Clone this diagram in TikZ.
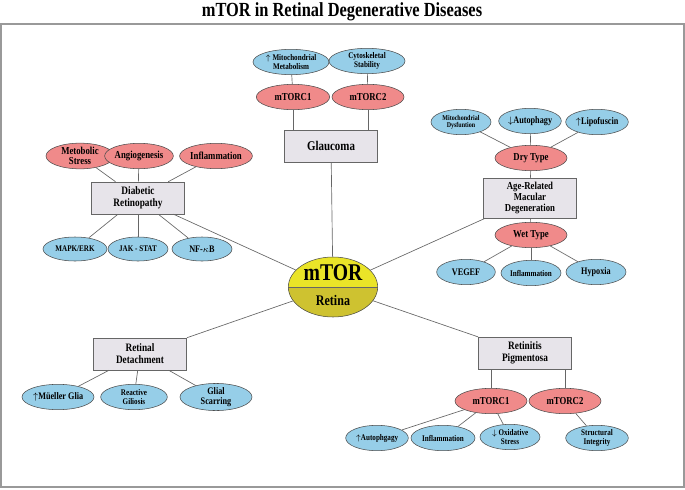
\documentclass[tikz,border=0pt]{standalone}
\usepackage{fontspec}
\setmainfont{Liberation Serif}[FakeStretch=0.82]
\usetikzlibrary{shapes.geometric,positioning}
\definecolor{skyblue}{RGB}{150,206,232}
\definecolor{salmon}{RGB}{240,138,138}
\definecolor{boxgrey}{RGB}{231,228,234}
\definecolor{lemon}{RGB}{234,228,40}
\definecolor{olivey}{RGB}{206,194,48}
\tikzset{
  blue/.style={ellipse, draw=black!70, fill=skyblue, inner sep=0pt, minimum height=19pt, align=center, font=\bfseries\fontsize{6.5}{6.5}\selectfont},
  red/.style={ellipse, draw=black!70, fill=salmon, inner sep=0pt, minimum height=19pt, align=center, font=\bfseries\fontsize{8}{8}\selectfont},
  disease/.style={rectangle, draw=black!60, fill=boxgrey, minimum width=70pt, minimum height=24pt, align=center, font=\bfseries\fontsize{8.5}{9}\selectfont},
  link/.style={draw=black!60, line width=0.5pt}
}
\begin{document}
\begin{tikzpicture}[x=0.75pt,y=0.75pt,yscale=-1,xscale=1]
    \useasboundingbox (0,0) rectangle (685,489);
    \draw [black!40, line width=1.2pt] (1,24) rectangle (684,487);
    \node (title) at (342,12) {\bfseries\fontsize{15}{15}\selectfont mTOR in Retinal Degenerative Diseases};

    % centre
    \node (mtor) [ellipse, draw=black!70, fill=lemon, minimum width=67pt, minimum height=45pt, inner sep=0pt,
      path picture={\fill[olivey] (path picture bounding box.west) rectangle (path picture bounding box.south east);
        \draw[black!60] (path picture bounding box.west) -- (path picture bounding box.east);}] at (333,287) {};
    \node (mtortxt) at (333,273) {\bfseries\fontsize{18}{18}\selectfont mTOR};
    \node (retinatxt) at (333,300) {\bfseries\fontsize{11}{11}\selectfont Retina};

    % Glaucoma
    \node (gla) [disease, font=\bfseries\fontsize{10}{10}\selectfont] at (331,146) {Glaucoma};
    \node (gc1) [red, minimum width=55pt] at (293,97) {mTORC1};
    \node (gc2) [red, minimum width=54pt] at (368,97) {mTORC2};
    \node (gmito) [blue, minimum width=57pt] at (291,62) {$\uparrow$ Mitochondrial\\Metabolism};
    \node (gcyto) [blue, minimum width=57pt] at (367,61) {Cytoskeletal\\Stability};

    % Diabetic Retinopathy
    \node (dr) [disease] at (138,198) {Diabetic\\Retinopathy};
    \node (dmet) [red, minimum width=51pt] at (80,156) {Metobolic\\Stress};
    \node (dang) [red, minimum width=51pt] at (139,156) {Angiogenesis};
    \node (dinf) [red, minimum width=54pt] at (216,156) {Inflammation};
    \node (dmapk) [blue, minimum width=48pt, minimum height=18pt] at (75,249) {MAPK/ERK};
    \node (djak) [blue, minimum width=45pt, minimum height=18pt] at (138,249) {JAK - STAT};
    \node (dnf) [blue, minimum width=45pt, minimum height=18pt, font=\bfseries\fontsize{7.5}{7.5}\selectfont] at (202,249) {NF-$\kappa$B};

    % AMD
    \node (amd) [disease, minimum height=25pt, font=\bfseries\fontsize{8}{8}\selectfont] at (530,198) {Age-Related\\Macular\\Degeneration};
    \node (dry) [red, minimum width=54pt] at (531,158) {Dry Type};
    \node (amito) [blue, minimum width=45pt, font=\bfseries\fontsize{5.5}{5.5}\selectfont] at (461,122) {Mitochondrial\\Dysfuntion};
    \node (aauto) [blue, minimum width=47pt, font=\bfseries\fontsize{7.5}{7.5}\selectfont] at (530,121) {$\downarrow$Autophagy};
    \node (alipo) [blue, minimum width=47pt, font=\bfseries\fontsize{7.5}{7.5}\selectfont] at (597,122) {$\uparrow$Lipofuscin};
    \node (wet) [red, minimum width=54pt] at (531,235) {Wet Type};
    \node (avegf) [blue, minimum width=44pt, font=\bfseries\fontsize{7.5}{7.5}\selectfont] at (466,272) {VEGEF};
    \node (ainf) [blue, minimum width=45pt] at (531,273) {Inflammation};
    \node (ahyp) [blue, minimum width=45pt, font=\bfseries\fontsize{7.5}{7.5}\selectfont] at (596,272) {Hypoxia};

    % Retinal Detachment
    \node (rd) [disease] at (140,354) {Retinal\\Detachment};
    \node (rmue) [blue, minimum width=54pt, font=\bfseries\fontsize{7.5}{7.5}\selectfont] at (58,397) {$\uparrow$Müeller Glia};
    \node (rrea) [blue, minimum width=50pt] at (134,397) {Reactive\\Giliosis};
    \node (rgli) [blue, minimum width=54pt, font=\bfseries\fontsize{7.5}{7.5}\selectfont] at (216,397) {Glial\\Scarring};

    % Retinitis Pigmentosa
    \node (rp) [disease] at (525,353) {Retinitis\\Pigmentosa};
    \node (rc1) [red, minimum width=54pt] at (491,401) {mTORC1};
    \node (rc2) [red, minimum width=54pt] at (565,401) {mTORC2};
    \node (rauto) [blue, minimum width=47pt] at (377,438) {$\uparrow$Autophgagy};
    \node (rinf) [blue, minimum width=48pt] at (443,438) {Inflammation};
    \node (roxi) [blue, minimum width=45pt] at (510,437) {$\downarrow$ Oxidative\\Stress};
    \node (rstr) [blue, minimum width=47pt] at (597,438) {Structural\\Integrity};

    % connectors
    \foreach \a/\b in {mtor/gla, mtor/dr, mtor/amd, mtor/rd, mtor/rp,
        gmito/gc1, gcyto/gc2, dmet/dr, dang/dr, dinf/dr, dr/dmapk, dr/djak, dr/dnf,
        amito/dry, aauto/dry, alipo/dry, dry/amd, amd/wet, wet/avegf, wet/ainf, wet/ahyp,
        rd/rmue, rd/rrea, rd/rgli, rc1/rauto, rc1/rinf, rc1/roxi, rc2/rstr}
      \path [link] (\a) -- (\b);
    \path [link] (gc1.south) -- (gc1.south |- gla.north);
    \path [link] (gc2.south) -- (gc2.south |- gla.north);
    \path [link] (rc1.north) -- (rc1.north |- rp.south);
    \path [link] (rc2.north) -- (rc2.north |- rp.south);
\end{tikzpicture}
\end{document}
